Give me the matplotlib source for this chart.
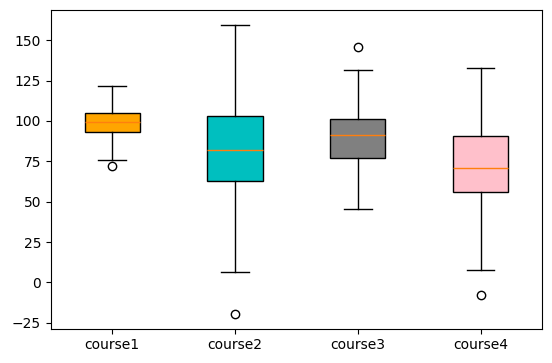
import matplotlib
matplotlib.use("Agg")
import matplotlib.pyplot as plt

labels = ["course1", "course2", "course3", "course4"]
whislo = [75.8, 6.2, 45.2, 7.8]
q1 = [93.2, 62.8, 77.0, 55.8]
med = [99.4, 81.8, 91.3, 71.0]
q3 = [104.8, 103.1, 101.0, 90.5]
whishi = [121.5, 159.7, 131.6, 132.6]
fliers = [[72.1], [-19.6], [146.0], [-7.9]]
colors = ["orange", "c", "gray", "pink"]

stats = []
for i in range(len(labels)):
    stats.append({
        "label": labels[i], "whislo": whislo[i], "q1": q1[i], "med": med[i],
        "q3": q3[i], "whishi": whishi[i], "fliers": fliers[i],
    })

fig, ax = plt.subplots(figsize=(5.52, 3.63), dpi=100)
bp = ax.bxp(stats, patch_artist=True)
for patch, col in zip(bp["boxes"], colors):
    patch.set_facecolor(col)

fig.subplots_adjust(left=0.092, right=0.982, top=0.972, bottom=0.095)
fig.savefig("out.png")
